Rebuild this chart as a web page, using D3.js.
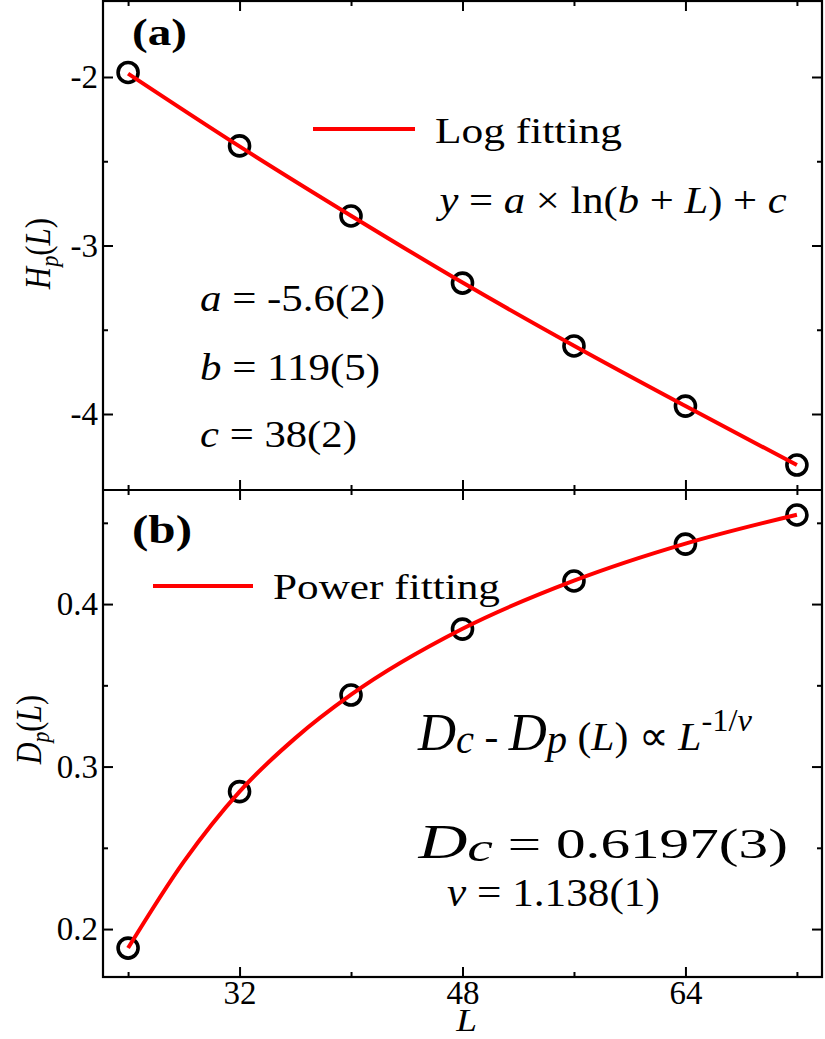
<!DOCTYPE html>
<html><head><meta charset="utf-8">
<script src="https://cdn.jsdelivr.net/npm/d3@7"></script>
<style>
body{margin:0;background:#fff}
svg{display:block}
text{white-space:pre;fill:#000}
</style>
</head><body>
<svg id="chart" width="825" height="1039"></svg>
<script>
// ---- data ----
const sizes = [24, 32, 40, 48, 56, 64, 72];
const hpValues = [-1.973, -2.409, -2.825, -3.223, -3.596, -3.953, -4.303];
const dpValues = [0.1883, 0.2846, 0.3440, 0.3846, 0.4142, 0.4369, 0.4548];
const logFitL = [24, 32, 40, 48, 56, 64, 72];
const logFitH = [-1.980, -2.412, -2.823, -3.220, -3.595, -3.953, -4.303];
const powFitL = [24, 28, 32, 36, 40, 48, 56, 64, 72];
const powFitD = [0.1883, 0.2415, 0.2846, 0.3175, 0.3442, 0.3848, 0.4144, 0.4372, 0.4550];
const xMajor = [32, 48, 64];
const xMinor = [24, 40, 56, 72];
const yaMajor = [-2, -3, -4];
const yaMinor = [-2.5, -3.5];
const ybMajor = [0.2, 0.3, 0.4];
const ybMinor = [0.25, 0.35, 0.45];

(function () {
const FONT = "'Liberation Serif', 'Times New Roman', Times, serif";
const svg = d3.select("#chart").attr("font-family", FONT);
const pL = 103, pR = 822, pT = 1, pM = 490, pB = 977;

const x = d3.scaleLinear().domain([22.2, 73.8]).range([pL, pR]);
const ya = d3.scaleLinear().domain([-4.451, -1.549]).range([pM, pT]);
const yb = d3.scaleLinear().domain([0.1705, 0.4702]).range([pB, pM]);

const RED = "#ff0000";

function styleAxis(g) {
  g.attr("font-family", FONT).attr("font-size", 33);
  g.select(".domain").remove();
  g.selectAll(".tick line").attr("stroke", "#000").attr("stroke-width", 2);
  g.selectAll("text").attr("fill", "#000").attr("font-family", FONT).style("font-size", "33px");
}

function axisPair(maker, scale, major, minor, pos, labels, fmt) {
  const gM = svg.append("g").attr("transform", pos)
    .call(maker(scale).tickValues(major).tickSize(-10).tickPadding(5)
      .tickFormat(labels ? fmt : () => ""));
  styleAxis(gM);
  const gm = svg.append("g").attr("transform", pos)
    .call(maker(scale).tickValues(minor).tickSize(-5).tickFormat(() => ""));
  styleAxis(gm);
  return gM;
}

// x axes
const bx = axisPair(d3.axisBottom, x, xMajor, xMinor, `translate(0,${pB})`, true, d3.format("d"));
bx.selectAll("text").attr("y", 27).attr("dy", 0);
axisPair(d3.axisTop, x, xMajor, xMinor, `translate(0,${pT})`, false);
axisPair(d3.axisBottom, x, xMajor, xMinor, `translate(0,${pM})`, false);
axisPair(d3.axisTop, x, xMajor, xMinor, `translate(0,${pM})`, false);

// y axes
axisPair(d3.axisLeft, ya, yaMajor, yaMinor, `translate(${pL},0)`, true, d => d3.format("d")(d).replace("−", "-"));
axisPair(d3.axisRight, ya, yaMajor, yaMinor, `translate(${pR},0)`, false);
axisPair(d3.axisLeft, yb, ybMajor, ybMinor, `translate(${pL},0)`, true, d3.format(".1f"));
axisPair(d3.axisRight, yb, ybMajor, ybMinor, `translate(${pR},0)`, false);

// frame
svg.append("rect").attr("x", pL).attr("y", pT).attr("width", pR - pL).attr("height", pB - pT)
  .attr("fill", "none").attr("stroke", "#000").attr("stroke-width", 2.2);
svg.append("line").attr("x1", pL).attr("x2", pR).attr("y1", pM).attr("y2", pM)
  .attr("stroke", "#000").attr("stroke-width", 2.2);

// circles
function circles(vals, ys) {
  svg.append("g").selectAll("circle").data(sizes.map((s, i) => [s, vals[i]])).join("circle")
    .attr("cx", d => x(d[0])).attr("cy", d => ys(d[1])).attr("r", 10)
    .attr("fill", "none").attr("stroke", "#000").attr("stroke-width", 3.6);
}
circles(hpValues, ya);
circles(dpValues, yb);

// fit curves
const lineA = d3.line().x(d => x(d[0])).y(d => ya(d[1])).curve(d3.curveMonotoneX);
svg.append("path").attr("d", lineA(logFitL.map((l, i) => [l, logFitH[i]])))
  .attr("fill", "none").attr("stroke", RED).attr("stroke-width", 4);
const lineB = d3.line().x(d => x(d[0])).y(d => yb(d[1])).curve(d3.curveMonotoneX);
svg.append("path").attr("d", lineB(powFitL.map((l, i) => [l, powFitD[i]])))
  .attr("fill", "none").attr("stroke", RED).attr("stroke-width", 4);

// legend lines
svg.append("line").attr("x1", 313).attr("x2", 415).attr("y1", 129).attr("y2", 129)
  .attr("stroke", RED).attr("stroke-width", 4);
svg.append("line").attr("x1", 153).attr("x2", 253).attr("y1", 586).attr("y2", 586)
  .attr("stroke", RED).attr("stroke-width", 4);

// text helper
function buildText(g, parts, base) {
  const t = g.append("text").attr("x", 0).attr("y", 0)
    .attr("font-family", FONT).style("font-size", base + "px");
  parts.forEach(p => {
    const s = t.append("tspan").text(p.t).attr("font-family", FONT);
    if (p.i) s.style("font-style", "italic");
    if (p.b) s.style("font-weight", "bold");
    if (p.s) s.style("font-size", p.s + "px");
    if (p.dy) s.attr("dy", p.dy);
  });
  return t;
}
function label(x0, y0, width, parts, base) {
  const g = svg.append("g");
  const t = buildText(g, parts, base);
  const bb = t.node().getBBox();
  const sx = width / bb.width;
  g.attr("transform", `translate(${x0 - bb.x * sx},${y0}) scale(${sx},1)`);
}
function vlabel(bxp, cy, len, parts, base) {
  const g = svg.append("g");
  const t = buildText(g, parts, base);
  const bb = t.node().getBBox();
  const sx = len / bb.width;
  g.attr("transform", `translate(${bxp},${cy}) rotate(-90) translate(${-len / 2 - bb.x * sx},0) scale(${sx},1)`);
}

// panel (a)
label(132, 45, 55, [{t: "(a)", b: 1}], 38);
label(435, 143, 187, [{t: "Log fitting"}], 36);
label(435, 213, 352, [{t: "y", i: 1}, {t: " = "}, {t: "a", i: 1}, {t: " × ln("}, {t: "b", i: 1},
  {t: " + "}, {t: "L", i: 1}, {t: ") + "}, {t: "c", i: 1}], 38);
label(200, 311, 185, [{t: "a", i: 1}, {t: " = -5.6(2)"}], 37);
label(200, 380, 180, [{t: "b", i: 1}, {t: " = 119(5)"}], 37);
label(200, 447, 157, [{t: "c", i: 1}, {t: " = 38(2)"}], 37);

// panel (b)
label(132, 543, 60, [{t: "(b)", b: 1}], 39);
label(273, 599, 227, [{t: "Power fitting"}], 36);
label(417, 750, 336, [{t: "D", i: 1, s: 52}, {t: "c", i: 1, s: 40, dy: 3}, {t: " - ", dy: -3},
  {t: "D", i: 1, s: 52}, {t: "p", i: 1, s: 40, dy: 3}, {t: " (", dy: -3}, {t: "L", i: 1}, {t: ") ∝ "},
  {t: "L", i: 1}, {t: "-1/", s: 32, dy: -19}, {t: "ν", i: 1, s: 32}], 41);
label(417, 858, 371, [{t: "D", i: 1, s: 48}, {t: "c", i: 1, s: 41, dy: 3}, {t: " = 0.6197(3)", dy: -3}], 42);
label(447, 906, 213, [{t: "ν", i: 1}, {t: " = 1.138(1)"}], 40);

// axis titles
vlabel(50, 254, 72, [{t: "H", i: 1}, {t: "p", i: 1, s: 26, dy: 8}, {t: "(", dy: -8}, {t: "L", i: 1}, {t: ")"}], 36);
vlabel(41, 730, 70, [{t: "D", i: 1}, {t: "p", i: 1, s: 26, dy: 8}, {t: "(", dy: -8}, {t: "L", i: 1}, {t: ")"}], 36);
label(455, 1031, 22, [{t: "L", i: 1}], 31);
})();
</script>
</body></html>
